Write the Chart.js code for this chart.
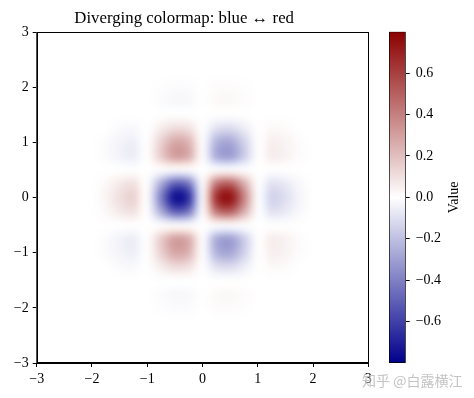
<!DOCTYPE html>
<html>
<head>
<meta charset="utf-8">
<script src="https://cdn.jsdelivr.net/npm/chart.js@4/dist/chart.umd.min.js"></script>
<style>
  body { margin: 0; background: #fff; }
  #wrap { position: relative; width: 474px; height: 398px; }
  canvas { position: absolute; top: 0; }
  #main { left: 0; }
  #cbar { left: 380px; }
  #mark { position: absolute; left: 362px; top: 370px; font: 14px "Noto Sans CJK SC", sans-serif; color: #c4c4c4; white-space: nowrap; }
</style>
</head>
<body>
<div id="wrap">
  <canvas id="main" width="405" height="398"></canvas>
  <canvas id="cbar" width="94" height="398"></canvas>
  <div id="mark">知乎 @白露横江</div>
</div>
<script>
// grid positions (cell centres)
var xGrid = [-3, -2.75, -2.5, -2.25, -2, -1.75, -1.5, -1.25, -1, -0.75, -0.5, -0.25, 0,
             0.25, 0.5, 0.75, 1, 1.25, 1.5, 1.75, 2, 2.25, 2.5, 2.75, 3];
var yGrid = [3, 2.75, 2.5, 2.25, 2, 1.75, 1.5, 1.25, 1, 0.75, 0.5, 0.25, 0,
             -0.25, -0.5, -0.75, -1, -1.25, -1.5, -1.75, -2, -2.25, -2.5, -2.75, -3];

// estimated values, one row per yGrid entry (top to bottom)
var zero = [0,0,0,0,0,0,0,0,0,0,0,0,0,0,0,0,0,0,0,0,0,0,0,0,0];
var row200 = [0,0,0,0,0,0,0,0,0,-0.007,-0.014,-0.012,0,0.012,0.014,0.007,0,0,0,0,0,0,0,0,0];
var row175 = [0,0,0,0,0,0,0,0,0,-0.013,-0.026,-0.022,0,0.022,0.026,0.013,0,0,0,0,0,0,0,0,0];
var row125 = [0,0,0,0,0,0,-0.016,-0.022,0,0.06,0.115,0.098,0,-0.098,-0.115,-0.06,0,0.022,0.016,0,0,0,0,0,0];
var row100 = [0,0,0,0,0,-0.012,-0.039,-0.054,0,0.148,0.287,0.244,0,-0.244,-0.287,-0.148,0,0.054,0.039,0.012,0,0,0,0,0];
var row075 = [0,0,0,0,0,-0.013,-0.042,-0.06,0,0.162,0.314,0.268,0,-0.268,-0.314,-0.162,0,0.06,0.042,0.013,0,0,0,0,0];
var row025 = [0,0,0,0,0,0.022,0.07,0.098,0,-0.268,-0.517,-0.441,0,0.441,0.517,0.268,0,-0.098,-0.07,-0.022,0,0,0,0,0];
var row000 = [0,0,0,0,0,0.033,0.105,0.148,0,-0.403,-0.779,-0.664,0,0.664,0.779,0.403,0,-0.148,-0.105,-0.033,0,0,0,0,0];

var zGrid = [zero, zero, zero, zero, row200, row175, zero, row125, row100, row075, zero, row025, row000,
             row025, zero, row075, row100, row125, zero, row175, row200, zero, zero, zero, zero];

var axisTicks = [-3, -2, -1, 0, 1, 2, 3];
var cbMin = -0.8, cbMax = 0.8;
var cbTicks = [-0.6, -0.4, -0.2, 0, 0.2, 0.4, 0.6];

// colormap: darkblue -> white -> darkred
var cLow = [0, 0, 139], cMid = [255, 255, 255], cHigh = [139, 0, 0];

function colorFor(v) {
	var t = (v - cbMin) / (cbMax - cbMin);
	t = Math.max(0, Math.min(1, t));
	var a, b, f;
	if (t < 0.5) { a = cLow; b = cMid; f = t / 0.5; }
	else { a = cMid; b = cHigh; f = (t - 0.5) / 0.5; }
	return [0, 1, 2].map(function(i) { return Math.round(a[i] + (b[i] - a[i]) * f); });
}

function minus(s) { return String(s).replace('-', '\u2212'); }

var serif = '"Liberation Serif", "Times New Roman", serif';
Chart.defaults.font.family = serif;
Chart.defaults.color = '#000';

// paints the grid as an image, smoothed like imshow
var heatPlugin = {
	id: 'heat',
	beforeDatasetsDraw: function(chart) {
		var ctx = chart.ctx, area = chart.chartArea;
		var sx = chart.scales.x, sy = chart.scales.y;
		var nx = xGrid.length, ny = yGrid.length;

		var off = document.createElement('canvas');
		off.width = nx; off.height = ny;
		var octx = off.getContext('2d');
		var img = octx.createImageData(nx, ny);
		for (var j = 0; j < ny; j++) {
			for (var i = 0; i < nx; i++) {
				var c = colorFor(zGrid[j][i]);
				var k = (j * nx + i) * 4;
				img.data[k] = c[0]; img.data[k + 1] = c[1]; img.data[k + 2] = c[2]; img.data[k + 3] = 255;
			}
		}
		octx.putImageData(img, 0, 0);

		var hx = (xGrid[1] - xGrid[0]) / 2, hy = (yGrid[0] - yGrid[1]) / 2;
		var x0 = sx.getPixelForValue(xGrid[0] - hx), x1 = sx.getPixelForValue(xGrid[nx - 1] + hx);
		var y0 = sy.getPixelForValue(yGrid[0] + hy), y1 = sy.getPixelForValue(yGrid[ny - 1] - hy);

		ctx.save();
		ctx.beginPath();
		ctx.rect(area.left, area.top, area.right - area.left, area.bottom - area.top);
		ctx.clip();
		ctx.imageSmoothingEnabled = true;
		ctx.imageSmoothingQuality = 'high';
		ctx.drawImage(off, x0, y0, x1 - x0, y1 - y0);
		ctx.restore();
	},
	afterDraw: function(chart) {
		// box round the axes
		var ctx = chart.ctx, a = chart.chartArea;
		ctx.save();
		ctx.strokeStyle = '#000';
		ctx.lineWidth = 1;
		ctx.strokeRect(Math.round(a.left) + 0.5, Math.round(a.top) + 0.5,
			Math.round(a.right - a.left) - 1, Math.round(a.bottom - a.top) - 1);
		ctx.restore();
	}
};

var axisCommon = {
	type: 'linear',
	min: -3,
	max: 3,
	afterBuildTicks: function(scale) { scale.ticks = axisTicks.map(function(v) { return { value: v }; }); },
	grid: { drawOnChartArea: false, drawTicks: true, tickLength: 4, color: '#000' },
	border: { display: true, color: '#000', width: 1 },
	ticks: { font: { size: 14 }, padding: 4, color: '#000', callback: function(v) { return minus(v); } }
};

new Chart(document.getElementById('main'), {
	type: 'scatter',
	data: { datasets: [{ data: [] }] },
	options: {
		responsive: false,
		animation: false,
		devicePixelRatio: 1,
		layout: { padding: { left: 0, right: 36.7, top: 0, bottom: 0 } },
		plugins: {
			legend: { display: false },
			tooltip: { enabled: false },
			title: {
				display: true,
				text: 'Diverging colormap: blue \u2194 red',
				font: { size: 16.8, weight: 'normal' },
				color: '#000',
				padding: { top: 8.5, bottom: 3.5 }
			}
		},
		scales: {
			x: Object.assign({}, axisCommon, {
				position: 'bottom',
				afterFit: function(scale) { scale.height = 35; }
			}),
			y: Object.assign({}, axisCommon, {
				position: 'left',
				afterFit: function(scale) { scale.width = 36.7; }
			})
		}
	},
	plugins: [heatPlugin]
});

// colorbar: one floating bar spanning the colour range
var labelPlugin = {
	id: 'cbLabel',
	afterDraw: function(chart) {
		var ctx = chart.ctx, a = chart.chartArea;
		ctx.save();
		ctx.translate(74, (a.top + a.bottom) / 2);
		ctx.rotate(-Math.PI / 2);
		ctx.font = '14px ' + serif;
		ctx.fillStyle = '#000';
		ctx.textAlign = 'center';
		ctx.textBaseline = 'middle';
		ctx.fillText('Value', 0, 0);
		ctx.restore();
	}
};

new Chart(document.getElementById('cbar'), {
	type: 'bar',
	data: {
		labels: ['Value'],
		datasets: [{
			data: [[cbMin, cbMax]],
			barPercentage: 1,
			categoryPercentage: 1,
			borderWidth: 1,
			borderColor: '#000',
			borderSkipped: false,
			backgroundColor: function(context) {
				var chart = context.chart;
				if (!chart.chartArea) return '#fff';
				var sy = chart.scales.y;
				var g = chart.ctx.createLinearGradient(0, sy.getPixelForValue(cbMin), 0, sy.getPixelForValue(cbMax));
				g.addColorStop(0, 'rgb(' + cLow.join(',') + ')');
				g.addColorStop(0.5, 'rgb(' + cMid.join(',') + ')');
				g.addColorStop(1, 'rgb(' + cHigh.join(',') + ')');
				return g;
			}
		}]
	},
	options: {
		responsive: false,
		animation: false,
		devicePixelRatio: 1,
		layout: { padding: { left: 9, right: 0, top: 31.7, bottom: 35 } },
		plugins: { legend: { display: false }, tooltip: { enabled: false }, title: { display: false } },
		scales: {
			x: { display: false },
			y: {
				position: 'right',
				min: cbMin,
				max: cbMax,
				afterBuildTicks: function(scale) { scale.ticks = cbTicks.map(function(v) { return { value: v }; }); },
				afterFit: function(scale) { scale.width = 68.3; },
				grid: { drawOnChartArea: false, drawTicks: true, tickLength: 4, color: '#000' },
				border: { display: false },
				ticks: { font: { size: 14 }, padding: 6, color: '#000', callback: function(v) { return minus(v.toFixed(1)); } }
			}
		}
	},
	plugins: [labelPlugin]
});
</script>
</body>
</html>
